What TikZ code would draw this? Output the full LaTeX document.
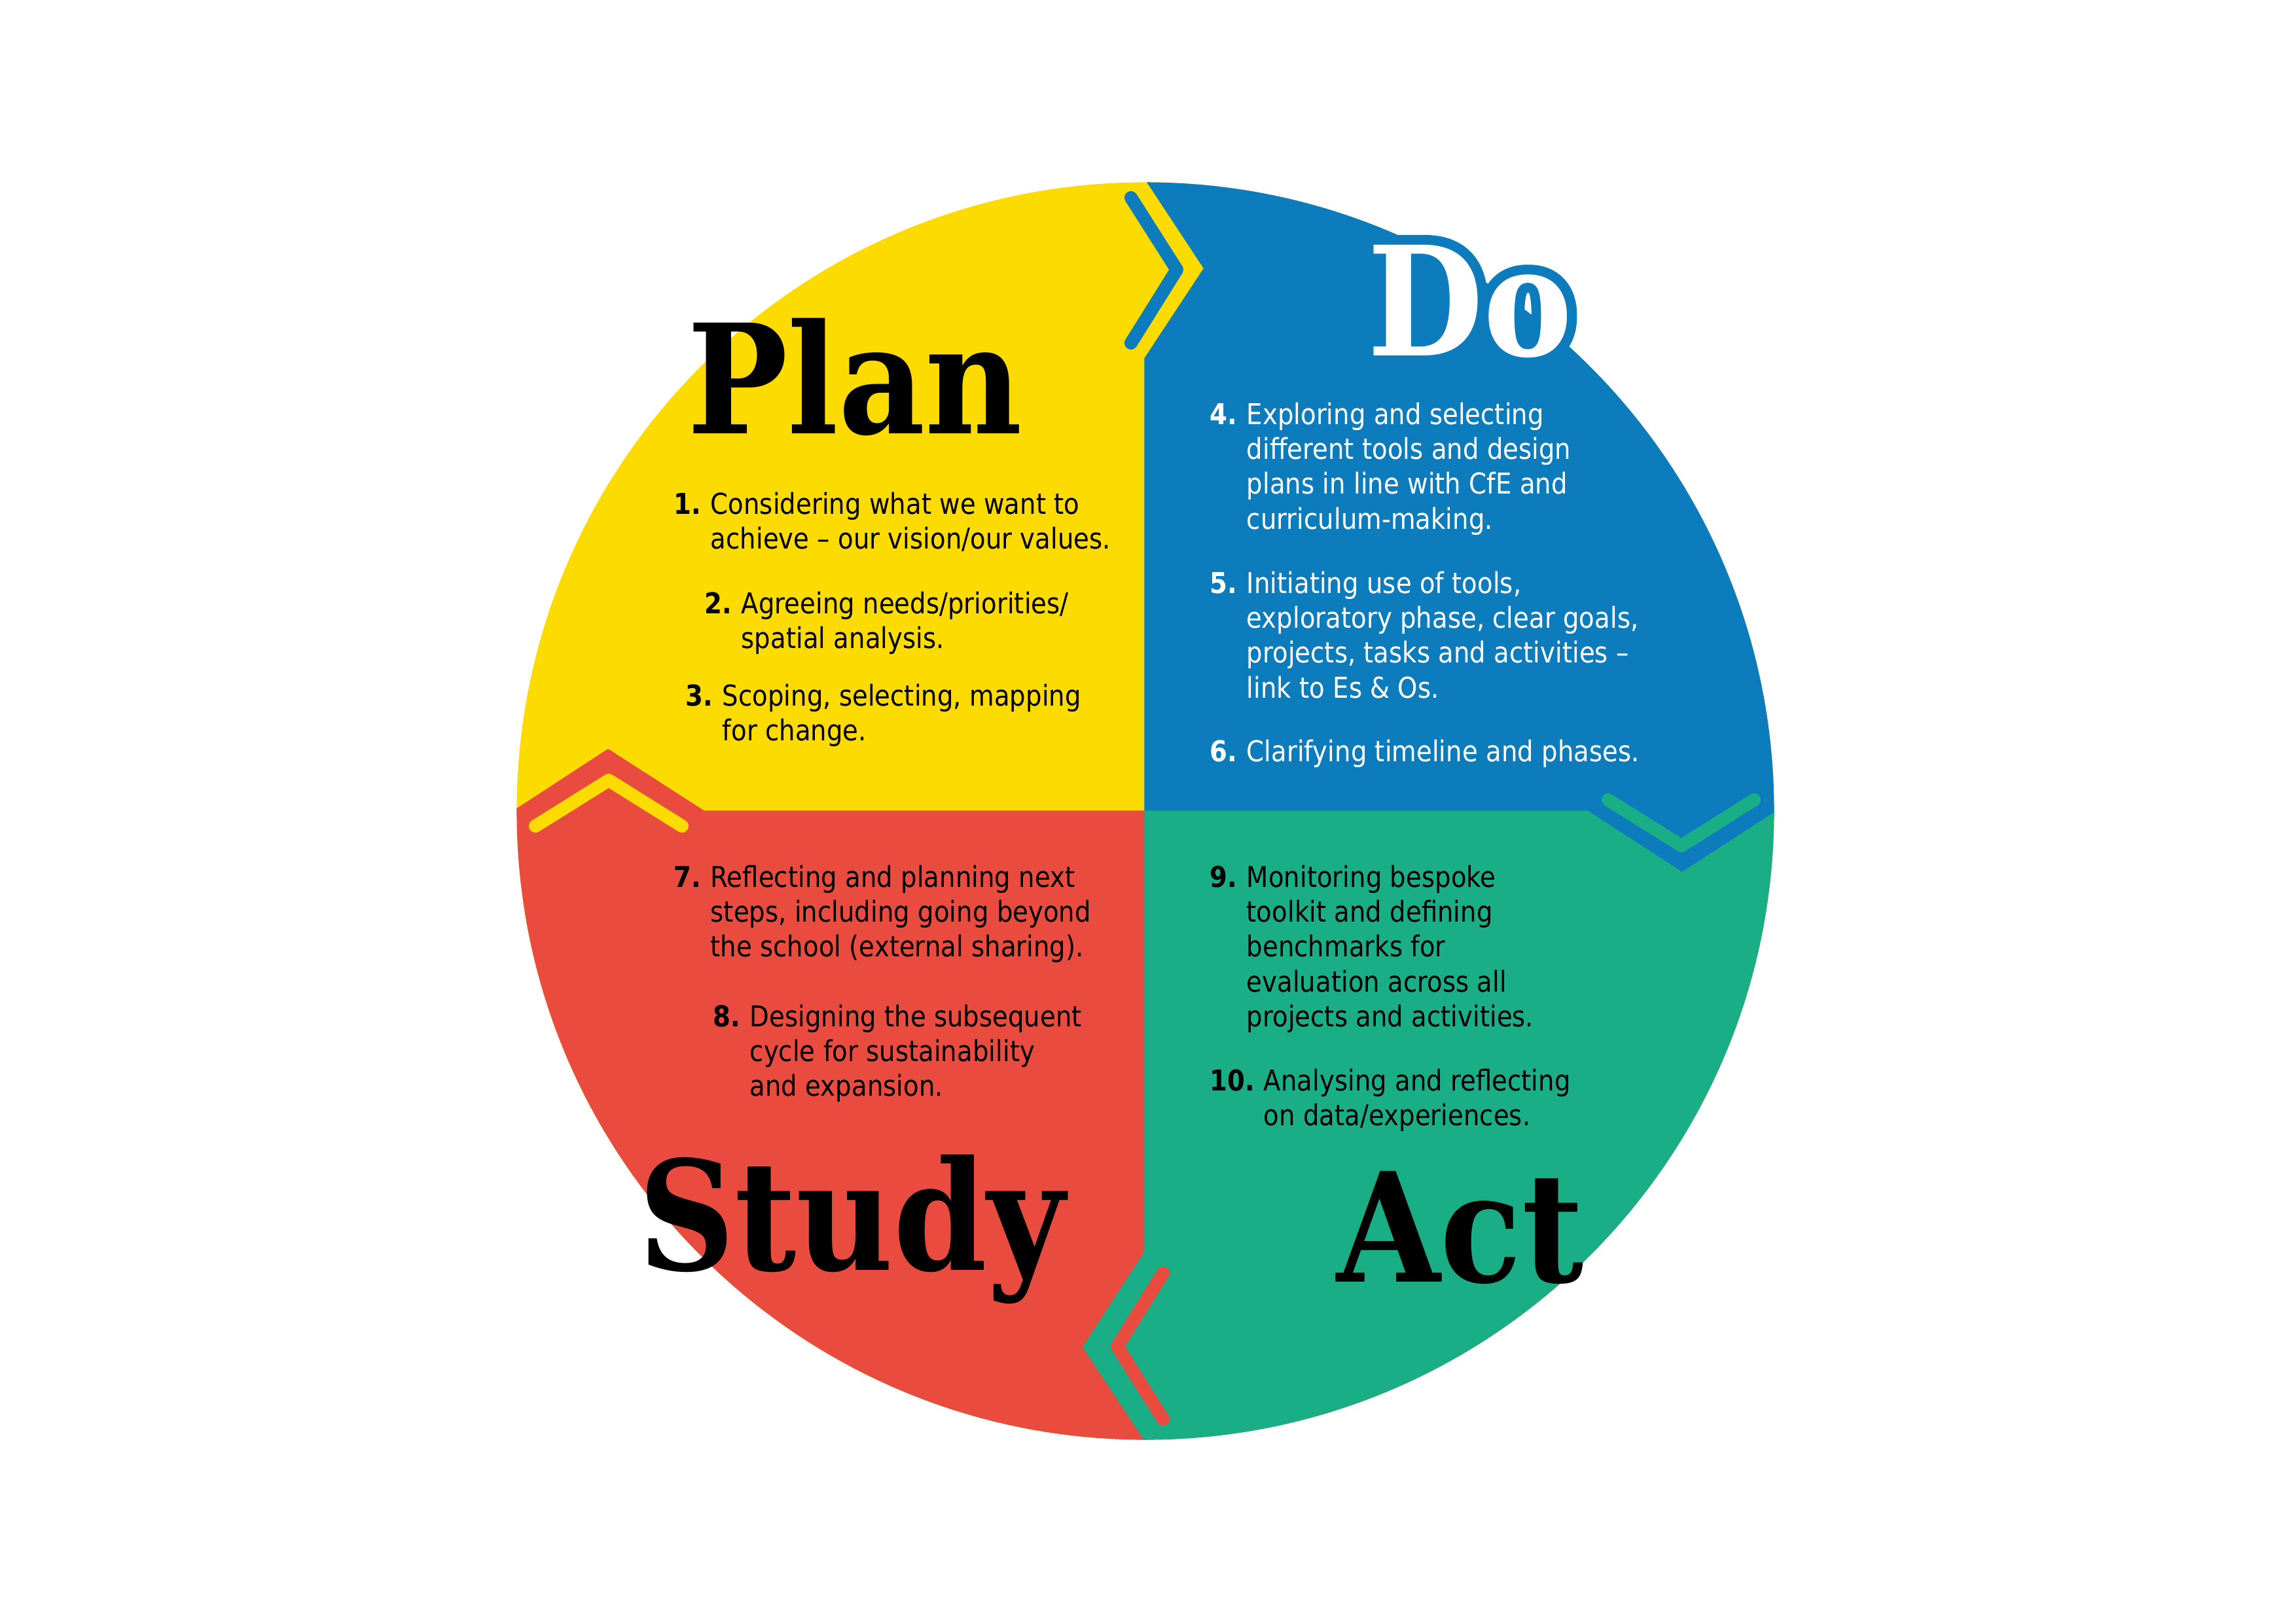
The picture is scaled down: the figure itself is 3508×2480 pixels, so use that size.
\documentclass[tikz,border=0pt]{standalone}
\usepackage{fontspec}
\setmainfont{DejaVu Sans}[FakeStretch=0.88]
\newfontfamily\titlefont{DejaVu Serif}[FakeStretch=0.88]
\definecolor{pdsyellow}{RGB}{252,219,0}
\definecolor{pdsblue}{RGB}{12,124,189}
\definecolor{pdsgreen}{RGB}{26,174,135}
\definecolor{pdsred}{RGB}{233,76,63}
\newcommand\pdsoutline[1]{\special{pdf:literal direct 2 Tr 8.5 w 1 j 0.047 0.486 0.741 RG}#1\special{pdf:literal direct 0 Tr}}
\begin{document}
\begin{tikzpicture}[x=0.01cm,y=-0.01cm,
  region/.style={line width=1pt,line join=round},
  chev/.style={line width=0.2cm,line cap=round,line join=round},
  title/.style={inner sep=0pt,anchor=base,font=\titlefont\bfseries\fontsize{66}{70}\selectfont},
  item/.style={inner sep=0pt,anchor=base west,font=\fontsize{12.5}{15.2}\selectfont}]
\useasboundingbox (0,0) rectangle (3508,2480);
\fill[white] (0,0) rectangle (3508,2480);
\coordinate (c) at (1750,1239);
\begin{scope}
\clip (c) circle [radius=9.6cm];
\fill[pdsyellow] (700,150) rectangle (2800,2350);
\filldraw[region,fill=pdsblue,draw=pdsblue] (1750,150) -- (2800,150) -- (2800,1240) -- (2715,1240) -- (2570,1334) -- (2425,1240) -- (1750,1240) -- (1750,548) -- (1841,410) -- (1750,272) -- cycle;
\filldraw[region,fill=pdsred,draw=pdsred] (700,1240) -- (785,1240) -- (929,1146) -- (1075,1240) -- (1750,1240) -- (1750,1913) -- (1656,2058) -- (1750,2200) -- (1750,2350) -- (700,2350) -- cycle;
\filldraw[region,fill=pdsgreen,draw=pdsgreen] (1750,1240) -- (2425,1240) -- (2570,1334) -- (2715,1240) -- (2800,1240) -- (2800,2350) -- (1750,2350) -- (1750,2200) -- (1656,2058) -- (1750,1913) -- cycle;
\coordinate (t1) at (1728,302); \coordinate (t2) at (1798,412); \coordinate (t3) at (1728,524);
\coordinate (r1) at (2680,1222); \coordinate (r2) at (2569,1292); \coordinate (r3) at (2457,1222);
\coordinate (b1) at (1777,2168); \coordinate (b2) at (1707,2057); \coordinate (b3) at (1777,1945);
\coordinate (l1) at (818,1262); \coordinate (l2) at (930,1192); \coordinate (l3) at (1042,1262);
\draw[chev,pdsblue] (t1) -- (t2) -- (t3);
\draw[chev,pdsgreen] (r1) -- (r2) -- (r3);
\draw[chev,pdsred] (b1) -- (b2) -- (b3);
\draw[chev,pdsyellow] (l1) -- (l2) -- (l3);
\end{scope}
% titles
\node[title] (plan) at (1306,662) {Plan};
\node[title,text=pdsblue] (doline) at (2246,543) {\pdsoutline{Do}};
\node[title,text=white] (do) at (2246,543) {Do};
\node[title] (study) at (1301,1940) {Study};
\node[title] (act) at (2231,1958) {Act};
% items
\node[item] (i1) at (1029,785) {\makebox[0.56cm][l]{\bfseries 1.}\parbox[t]{9cm}{Considering what we want to\\achieve – our vision/our values.}};
\node[item] (i2) at (1076,937) {\makebox[0.56cm][l]{\bfseries 2.}\parbox[t]{9cm}{Agreeing needs/priorities/\\spatial analysis.}};
\node[item] (i3) at (1047,1078) {\makebox[0.56cm][l]{\bfseries 3.}\parbox[t]{9cm}{Scoping, selecting, mapping\\for change.}};
\node[item,text=white] (i4) at (1848,648) {\makebox[0.56cm][l]{\bfseries 4.}\parbox[t]{9cm}{Exploring and selecting\\different tools and design\\plans in line with CfE and\\curriculum-making.}};
\node[item,text=white] (i5) at (1848,906) {\makebox[0.56cm][l]{\bfseries 5.}\parbox[t]{9cm}{Initiating use of tools,\\exploratory phase, clear goals,\\projects, tasks and activities –\\link to Es \& Os.}};
\node[item,text=white] (i6) at (1848,1163) {\makebox[0.56cm][l]{\bfseries 6.}\parbox[t]{9cm}{Clarifying timeline and phases.}};
\node[item] (i7) at (1029,1355) {\makebox[0.56cm][l]{\bfseries 7.}\parbox[t]{9cm}{Reflecting and planning next\\steps, including going beyond\\the school (external sharing).}};
\node[item] (i8) at (1089,1568) {\makebox[0.56cm][l]{\bfseries 8.}\parbox[t]{9cm}{Designing the subsequent\\cycle for sustainability\\and expansion.}};
\node[item] (i9) at (1848,1355) {\makebox[0.56cm][l]{\bfseries 9.}\parbox[t]{9cm}{Monitoring bespoke\\toolkit and defining\\benchmarks for\\evaluation across all\\projects and activities.}};
\node[item] (i10) at (1848,1666) {\makebox[0.82cm][l]{\bfseries 10.}\parbox[t]{9cm}{Analysing and reflecting\\on data/experiences.}};
\end{tikzpicture}
\end{document}
